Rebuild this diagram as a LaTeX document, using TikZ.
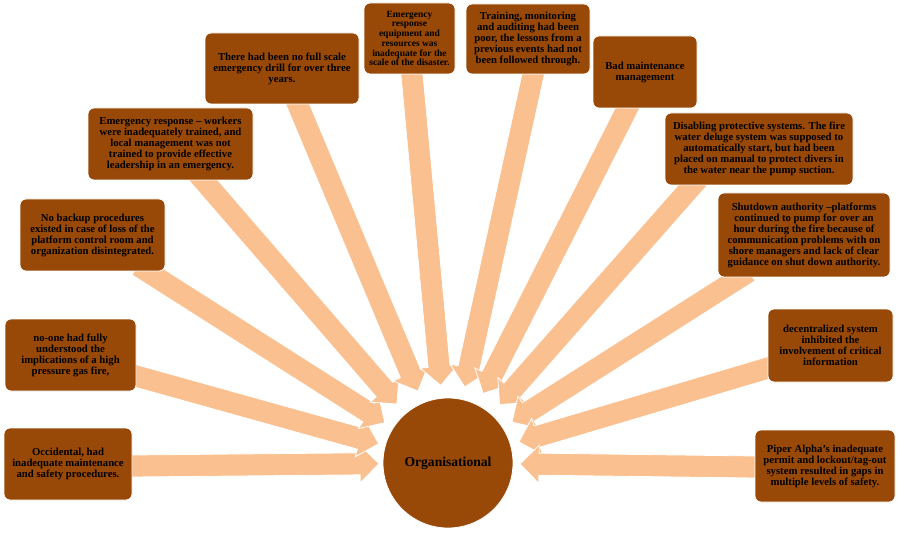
\documentclass[tikz,border=0pt]{standalone}
\usepackage{fontspec}
\setmainfont{Liberation Serif}
\usetikzlibrary{calc}
\definecolor{boxbrown}{HTML}{984807}
\definecolor{arwpeach}{HTML}{FAC090}
\tikzset{
  cause/.style={fill=boxbrown, draw=white, line width=0.8pt, rounded corners=6pt,
    align=center, inner sep=0pt, text=black,
    font=\fontsize{10.7}{11}\selectfont\bfseries},
  smallcause/.style={cause, font=\fontsize{9.5}{9.7}\selectfont\bfseries},
  arw/.style={fill=arwpeach, draw=white, line width=0.8pt},
  hub/.style={circle, fill=boxbrown, draw=white, line width=0.8pt, inner sep=0pt,
    minimum size=130pt, text=black, font=\fontsize{13.6}{15}\selectfont\bfseries},
}
\newcommand\blockarrow[2]{%
  \coordinate (hb) at ($(#2)!19pt!(#1)$);
  \path[arw] ($(#1)!11pt!90:(#2)$) -- ($(hb)!11pt!-90:(#1)$) -- ($(hb)!19pt!-90:(#1)$)
    -- (#2) -- ($(hb)!19pt!90:(#1)$) -- ($(hb)!11pt!90:(#1)$) -- ($(#1)!11pt!-90:(#2)$) -- cycle;
}
\newcommand\causearrow[3]{% exit point name, tip distance, index
  \coordinate (p#3) at ($(org.center)!#2pt!(#1)$);
  \coordinate (s#3) at ($(#1)!-12pt!(p#3)$);
  \blockarrow{s#3}{p#3}
}
\begin{document}
\begin{tikzpicture}[x=1pt,y=-1pt]
\fill[white] (0,0) rectangle (900,548);
\useasboundingbox (0,0) rectangle (900,548);

% hub
\node[hub] (org) at (448,463) {Organisational};

% exit points of the arrows on the boxes
\coordinate (e1) at (132,466);
\coordinate (e2) at (136,376);
\coordinate (e3) at (148,272);
\coordinate (e4) at (204,181);
\coordinate (e5) at (298,105);
\coordinate (e6) at (412,75);
\coordinate (e7) at (533,75);
\coordinate (e8) at (627,109);
\coordinate (e9) at (692,186);
\coordinate (e10) at (739,278);
\coordinate (e11) at (768,368);
\coordinate (e12) at (755,467);

\causearrow{e1}{69}{1}
\causearrow{e2}{72}{2}
\causearrow{e3}{75}{3}
\causearrow{e4}{78}{4}
\causearrow{e5}{78}{5}
\causearrow{e6}{78}{6}
\causearrow{e7}{78}{7}
\causearrow{e8}{78}{8}
\causearrow{e9}{78}{9}
\causearrow{e10}{76}{10}
\causearrow{e11}{74}{11}
\causearrow{e12}{72}{12}

% boxes
\node[cause, minimum width=128pt, minimum height=72pt] (b1) at (68,464)
  {Occidental, had\\inadequate maintenance\\and safety procedures.};
\node[cause, minimum width=131pt, minimum height=72pt] (b2) at (70.5,355)
  {no-one had fully\\understood the\\implications of a high\\pressure gas fire,};
\node[cause, minimum width=145pt, minimum height=72pt] (b3) at (92.5,235)
  {No backup procedures\\existed in case of loss of the\\platform control room and\\organization disintegrated.};
\node[cause, minimum width=165pt, minimum height=72pt] (b4) at (170.5,144)
  {Emergency response \textendash{} workers\\were inadequately trained, and\\local management was not\\trained to provide effective\\leadership in an emergency.};
\node[cause, minimum width=154pt, minimum height=71pt] (b5) at (282,68.5)
  {There had been no full scale\\emergency drill for over three\\years.};
\node[smallcause, minimum width=91pt, minimum height=71pt] (b6) at (409.5,38.5)
  {Emergency\\response\\equipment and\\resources was\\inadequate for the\\scale of the disaster.};
\node[cause, minimum width=124pt, minimum height=70pt] (b7) at (528,39)
  {Training, monitoring\\and auditing had been\\poor, the lessons from a\\previous events had not\\been followed through.};
\node[cause, minimum width=104pt, minimum height=72pt] (b8) at (645,72)
  {Bad maintenance\\management};
\node[cause, minimum width=188pt, minimum height=72pt] (b9) at (759,149)
  {Disabling protective systems. The fire\\water deluge system was supposed to\\automatically start, but had been\\placed on manual to protect divers in\\the water near the pump suction.};
\node[cause, minimum width=172pt, minimum height=84pt] (b10) at (804,235)
  {Shutdown authority \textendash platforms\\continued to pump for over an\\hour during the fire because of\\communication problems with on\\shore managers and lack of clear\\guidance on shut down authority.};
\node[cause, minimum width=125pt, minimum height=73pt] (b11) at (830.5,345.5)
  {decentralized system\\inhibited the\\involvement of critical\\information};
\node[cause, minimum width=140pt, minimum height=72pt] (b12) at (825,466)
  {Piper Alpha's inadequate\\permit and lockout/tag-out\\system resulted in gaps in\\multiple levels of safety.};
\end{tikzpicture}
\end{document}
